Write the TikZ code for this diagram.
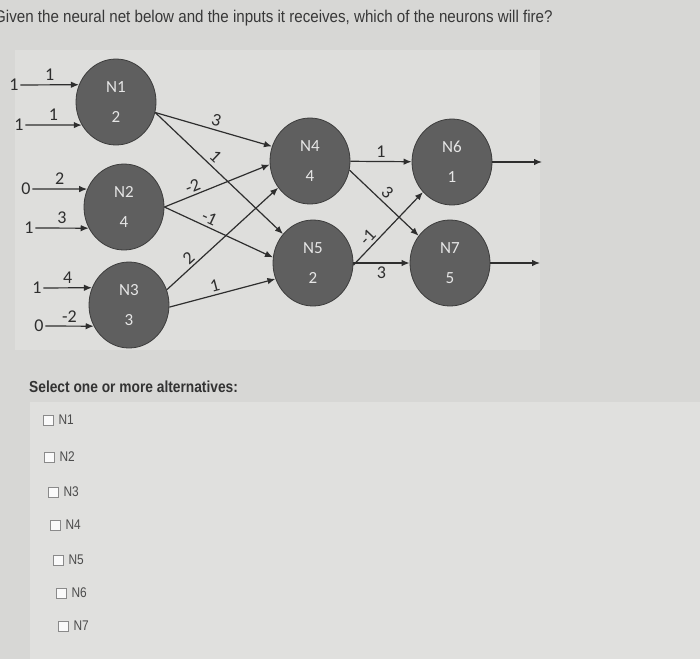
\documentclass[tikz,border=0pt]{standalone}
\usepackage{fontspec}
\setmainfont{Liberation Sans}
\newfontfamily\calfont{Carlito}
\usetikzlibrary{arrows.meta,shapes.geometric,positioning}
\definecolor{pagebg}{HTML}{D7D7D5}
\definecolor{panelbg}{HTML}{DEDEDC}
\definecolor{listbg}{HTML}{E0E0DE}
\definecolor{neuronfill}{HTML}{5F5F5F}
\definecolor{neuronedge}{HTML}{3C3C3C}
\definecolor{neurontext}{HTML}{E6E6E6}
\definecolor{wire}{HTML}{2E2E2E}
\definecolor{boxedge}{HTML}{8A8A8A}

\begin{document}
\begin{tikzpicture}[x=10pt,y=10pt]
\tikzstyle{every node}+=[inner sep=0pt]
\tikzstyle{neuron}=[ellipse,draw=neuronedge,line width=0.8pt,fill=neuronfill,minimum width=80pt,minimum height=86pt,text=neurontext,align=center,font=\calfont\fontsize{17}{19}\selectfont]
\tikzstyle{wire}=[draw=wire,line width=1.2pt,-{Latex[length=8pt,width=6.5pt]}]
\tikzstyle{val}=[inner sep=1.5pt,text=wire,font=\calfont\fontsize{18}{20}\selectfont]
\tikzstyle{tickbox}=[draw=boxedge,fill=white!85!listbg,line width=0.8pt,minimum width=10pt,minimum height=10pt]
\tikzstyle{item}=[text=black!70,xscale=0.85,font=\fontsize{14}{16}\selectfont]
\useasboundingbox (0,0) rectangle (70,-65.9);
\fill [pagebg] (0,0) rectangle (70,-65.9);
\fill [panelbg] (1.5,-5) rectangle (54,-35);
\fill [listbg] (3,-40.2) rectangle (70,-65.9);
\node [anchor=base west,text=black!78,xscale=0.89,font=\fontsize{17}{20}\selectfont] (title) at (-0.6,-2.2) {Given the neural net below and the inputs it receives, which of the neurons will fire?};
\node [neuron] (N1) at (11.6,-10.2) {N1\\[11pt]2};
\node [neuron] (N2) at (12.4,-20.7) {N2\\[11pt]4};
\node [neuron] (N3) at (12.9,-30.5) {N3\\[11pt]3};
\node [neuron] (N4) at (31.0,-16.1) {N4\\[11pt]4};
\node [neuron] (N5) at (31.3,-26.3) {N5\\[11pt]2};
\node [neuron] (N6) at (45.2,-16.2) {N6\\[11pt]1};
\node [neuron] (N7) at (45.0,-26.3) {N7\\[11pt]5};
\node [val] (x11) at (1.4,-8.5) {1};
\node [val] (x12) at (1.9,-12.5) {1};
\node [val] (x21) at (2.6,-18.9) {0};
\node [val] (x22) at (2.9,-22.8) {1};
\node [val] (x31) at (3.7,-28.8) {1};
\node [val] (x32) at (3.9,-32.6) {0};
\coordinate (o6) at (54.2,-16.2);
\coordinate (o7) at (54.0,-26.3);
\draw [wire] (x11) -- (N1.155) node [midway,above=2pt,val] {1};
\draw [wire] (x12) -- (N1.214) node [midway,above=2pt,val] {1};
\draw [wire] (x21) -- (N2.154) node [midway,above=2pt,val] {2};
\draw [wire] (x22) -- (N2.211) node [midway,above=2pt,val] {3};
\draw [wire] (x31) -- (N3.155) node [midway,above=2pt,val] {4};
\draw [wire] (x32) -- (N3.211) node [midway,above=2pt,val] {-2};
\draw [wire] (N1.345) -- (N4.159) node [pos=0.5,above=2pt,sloped,val] {3};
\draw [wire] (N1.345) -- (N5.136) node [pos=0.42,above=2pt,sloped,val] {1};
\draw [wire] (N2.0) -- (N4.185) node [pos=0.3,above=1pt,sloped,val] {-2};
\draw [wire] (N2.0) -- (N5.172) node [pos=0.38,above=1pt,sloped,val] {-1};
\draw [wire] (N3.22) -- (N4.220) node [pos=0.25,above=1pt,sloped,val] {2};
\draw [wire] (N3.357) -- (N5.203) node [pos=0.45,above=1pt,sloped,val] {1};
\draw [wire] (N4) -- (N6) node [midway,above=2pt,val] {1};
\draw [wire] (N4.347) -- (N7.139) node [pos=0.45,above=2pt,sloped,val] {3};
\draw [wire] (N5.357) -- (N6.226) node [pos=0.3,above=1pt,sloped,val] {-1};
\draw [wire] (N5) -- (N7) node [midway,below=2pt,val] {3};
\draw [wire] (N6) -- (o6);
\draw [wire] (N7) -- (o7);
\node [anchor=base west,text=black!80,xscale=0.86,font=\bfseries\fontsize{16}{18}\selectfont] (sel) at (2.9,-39.2) {Select one or more alternatives:};
\foreach \i/\x/\y in {1/4.8/42.0,2/4.9/45.7,3/5.3/49.2,4/5.5/52.5,5/5.8/56.0,6/6.1/59.3,7/6.3/62.6}
{
\node [tickbox] (c\i) at (\x,-\y) {};
\node [item,right=5pt of c\i] (t\i) {N\i};
}
\end{tikzpicture}
\end{document}
